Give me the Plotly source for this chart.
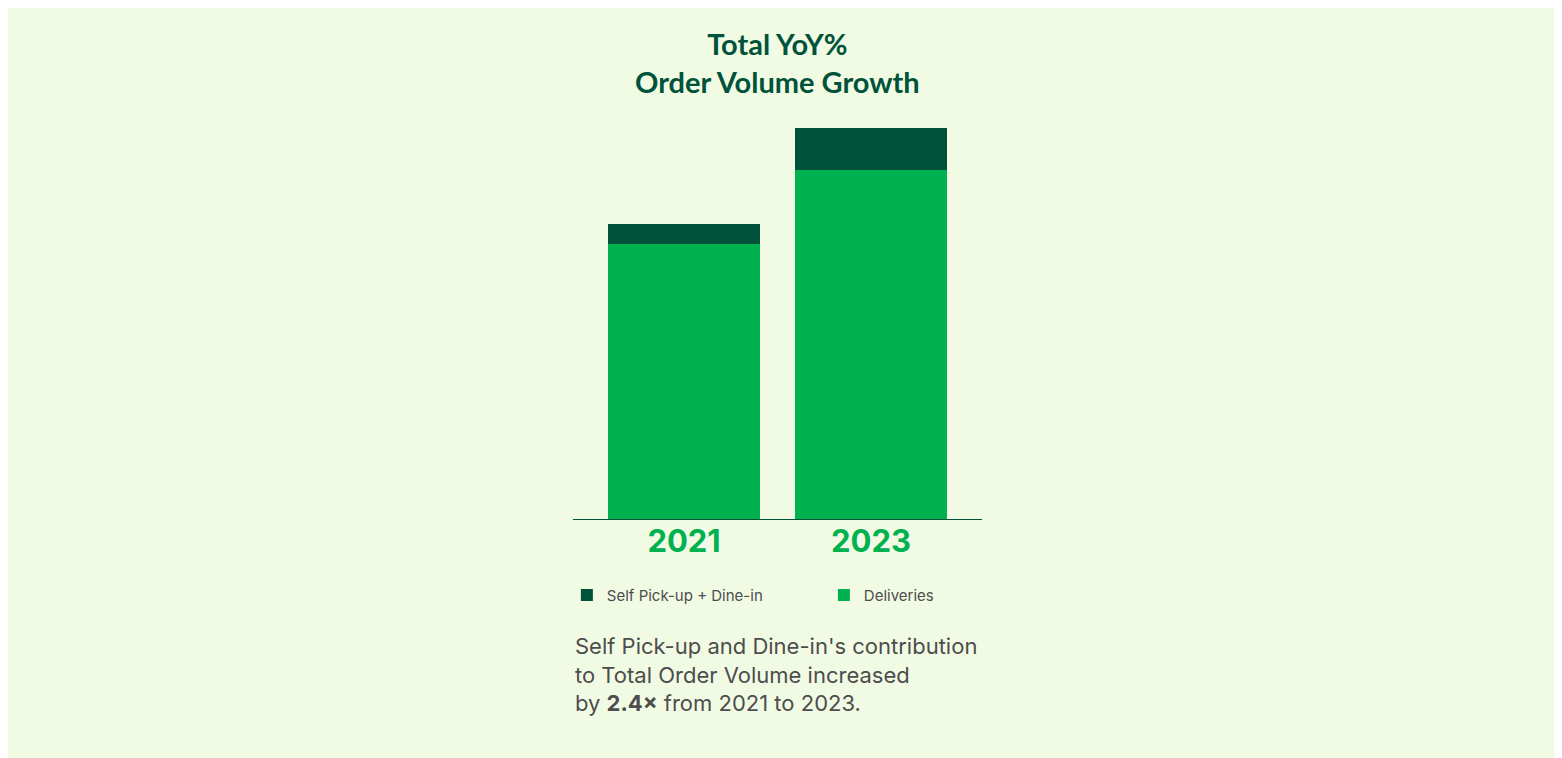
import plotly.graph_objects as go

years = ["2021", "2023"]
deliveries = [276, 350]
pickup_dinein = [20, 42]

x = [0, 1]
bg = "#f1fbe4"
bright = "#00b14f"
dark = "#00533a"

fig = go.Figure()
fig.add_bar(x=x, y=deliveries, name="Deliveries", marker_color=bright,
            marker_line_width=0, width=0.813)
fig.add_bar(x=x, y=pickup_dinein, name="Self Pick-up + Dine-in", marker_color=dark,
            marker_line_width=0, width=0.813)

fig.update_layout(
    width=1554, height=750,
    barmode="stack",
    paper_bgcolor=bg, plot_bgcolor=bg,
    margin=dict(l=565, r=580, t=92, b=238),
    font=dict(family="Inter, Roboto, sans-serif", color="#4d4d4d"),
    xaxis=dict(range=[-0.594, 1.594], tickvals=x, ticktext=years,
               showgrid=False, zeroline=False, showline=False, ticks="",
               tickfont=dict(size=31, color=bright, family="Inter, sans-serif", weight="bold")),
    yaxis=dict(range=[0, 420], visible=False),
    showlegend=True,
    legend=dict(orientation="h", x=-0.015, xanchor="left", y=-0.14, yanchor="top",
                traceorder="reversed", entrywidth=212, entrywidthmode="pixels",
                font=dict(size=15, color="#4d4d4d"), bgcolor="rgba(0,0,0,0)"),
)

fig.add_annotation(
    xref="paper", yref="paper", x=0.5, y=1.09, xanchor="center", yanchor="middle",
    showarrow=False, text="<b>Total YoY%<br>Order Volume Growth</b>",
    font=dict(family="Lato, Inter, sans-serif", size=29, color=dark),
)

fig.add_shape(type="line", xref="paper", yref="y", x0=0, x1=1, y0=0, y1=0,
              line=dict(color=dark, width=2))

fig.add_annotation(
    xref="paper", yref="paper", x=0, y=-0.265, xanchor="left", yanchor="top", align="left",
    showarrow=False,
    text="Self Pick-up and Dine-in's contribution<br>to Total Order Volume increased<br>"
         "by <b>2.4×</b> from 2021 to 2023.",
    font=dict(size=22, color="#4d4d4d"),
)

fig.write_html("out.html")
